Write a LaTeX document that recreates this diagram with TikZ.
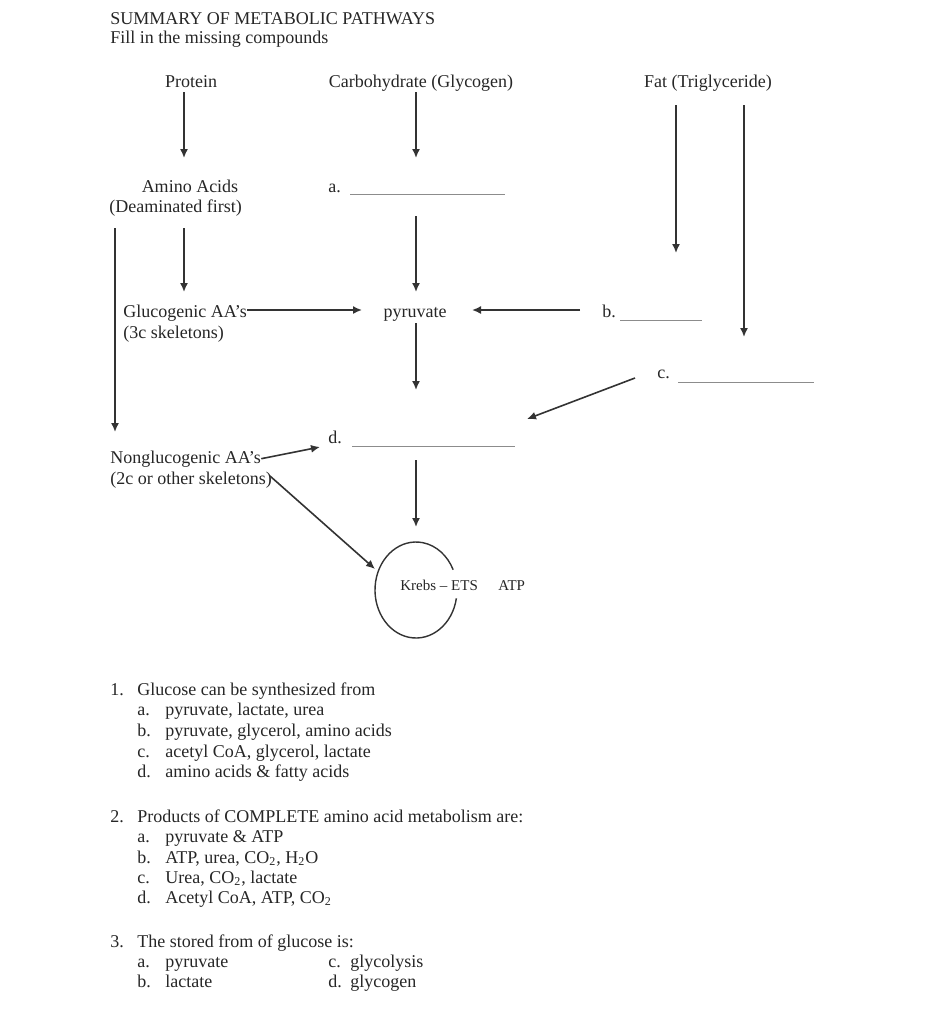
\documentclass[tikz,border=0pt]{standalone}
\usepackage{fontspec}
\setmainfont{Liberation Serif}
\usetikzlibrary{arrows.meta}
\begin{document}
\fontsize{9}{10.25}\selectfont
\begin{tikzpicture}[x=0.5pt,y=0.5pt,yscale=-1,xscale=1,
  txt/.style={inner sep=0pt,anchor=base west,text=black!85},
  ctr/.style={inner sep=0pt,anchor=base,text=black!85},
  flow/.style={-{Latex[length=4.5pt,width=4pt]},line width=0.8pt,draw=black!80},
  blank/.style={line width=0.5pt,draw=black!45}]
\useasboundingbox (0,0) rectangle (929,1024);

%Heading
\node[txt] (title) at (110,24) {SUMMARY OF METABOLIC PATHWAYS};
\node[txt] (fill) at (110,43) {Fill in the missing compounds};

%Sources
\node[ctr] (protein) at (191,87) {Protein};
\node[ctr] (carb) at (421,87) {Carbohydrate (Glycogen)};
\node[ctr] (fat) at (708,87) {Fat (Triglyceride)};

%Compounds
\node[ctr] (amino) at (190,192) {Amino Acids};
\node[txt] (deam) at (109,212) {(Deaminated first)};
\node[txt] (a) at (328,192) {a.};
\node[txt] (gluco) at (123,317) {Glucogenic AA’s};
\node[txt] (three) at (123,338) {(3c skeletons)};
\node[ctr] (pyr) at (415,317) {pyruvate};
\node[txt] (b) at (602,317) {b.};
\node[txt] (c) at (657,378) {c.};
\node[txt] (d) at (328,443) {d.};
\node[txt] (nongluco) at (110,463) {Nonglucogenic AA’s};
\node[txt] (two) at (110,484) {(2c or other skeletons)};
\node[txt,font=\fontsize{7.5}{9}\selectfont] (krebs) at (400,590) {Krebs -- ETS};
\node[txt,font=\fontsize{7.5}{9}\selectfont] (atp) at (498,590) {ATP};

%Arrow ends
\coordinate (protein-out) at (184,92);
\coordinate (amino-in) at (184,158);
\coordinate (carb-out) at (416,92);
\coordinate (a-in) at (416,158);
\coordinate (amino-out) at (184,228);
\coordinate (gluco-in) at (184,292);
\coordinate (a-out) at (416,216);
\coordinate (pyr-in) at (416,292);
\coordinate (deam-out) at (115,228);
\coordinate (nongluco-in) at (115,432);
\coordinate (pyr-w) at (362,310);
\coordinate (b-out) at (580,310);
\coordinate (pyr-e) at (472,310);
\coordinate (fat-out1) at (676,105);
\coordinate (fat-in1) at (676,253);
\coordinate (fat-out2) at (744,105);
\coordinate (fat-in2) at (744,337);
\coordinate (pyr-out) at (416,323);
\coordinate (d-in) at (416,390);
\coordinate (c-out) at (635,378);
\coordinate (d-ne) at (527,419);
\coordinate (d-w) at (320,447);
\coordinate (two-e) at (270,476);
\coordinate (krebs-w) at (375,569);
\coordinate (d-out) at (416,460);
\coordinate (krebs-in) at (416,527);
\coordinate (krebs-c) at (416,590);

%Arrows
\draw[flow] (protein-out) -- (amino-in);
\draw[flow] (carb-out) -- (a-in);
\draw[flow] (amino-out) -- (gluco-in);
\draw[flow] (a-out) -- (pyr-in);
\draw[flow] (deam-out) -- (nongluco-in);
\draw[flow] (gluco.east |- pyr-w) -- (pyr-w);
\draw[flow] (b-out) -- (pyr-e);
\draw[flow] (fat-out1) -- (fat-in1);
\draw[flow] (fat-out2) -- (fat-in2);
\draw[flow] (pyr-out) -- (d-in);
\draw[flow] (c-out) -- (d-ne);
\draw[flow] (nongluco.east) -- (d-w);
\draw[flow] (two-e) -- (krebs-w);
\draw[flow] (d-out) -- (krebs-in);

%Blanks
\draw[blank] (350,194) -- (505,194);
\draw[blank] (620,320) -- (702,320);
\draw[blank] (678,382) -- (814,382);
\draw[blank] (352,446) -- (515,446);

%Krebs cycle
\draw[line width=0.7pt,draw=black!80] (krebs-c) ++(10:41 and 48) arc[start angle=10, end angle=335, x radius=41, y radius=48];

%Questions
\node[txt] (q1) at (110,695) {\makebox[13.5pt][l]{1.}Glucose can be synthesized from};
\node[txt] (q1a) at (137,715) {\makebox[14pt][l]{a.}pyruvate, lactate, urea};
\node[txt] (q1b) at (137,736) {\makebox[14pt][l]{b.}pyruvate, glycerol, amino acids};
\node[txt] (q1c) at (137,757) {\makebox[14pt][l]{c.}acetyl CoA, glycerol, lactate};
\node[txt] (q1d) at (137,777) {\makebox[14pt][l]{d.}amino acids \& fatty acids};

\node[txt] (q2) at (110,822) {\makebox[13.5pt][l]{2.}Products of COMPLETE amino acid metabolism are:};
\node[txt] (q2a) at (137,842) {\makebox[14pt][l]{a.}pyruvate \& ATP};
\node[txt] (q2b) at (137,863) {\makebox[14pt][l]{b.}ATP, urea, CO\textsubscript{2}, H\textsubscript{2}O};
\node[txt] (q2c) at (137,883) {\makebox[14pt][l]{c.}Urea, CO\textsubscript{2}, lactate};
\node[txt] (q2d) at (137,903) {\makebox[14pt][l]{d.}Acetyl CoA, ATP, CO\textsubscript{2}};

\node[txt] (q3) at (110,947) {\makebox[13.5pt][l]{3.}The stored from of glucose is:};
\node[txt] (q3a) at (137,967) {\makebox[14pt][l]{a.}pyruvate};
\node[txt] (q3b) at (137,987) {\makebox[14pt][l]{b.}lactate};
\node[txt] (q3c) at (328,967) {\makebox[11pt][l]{c.}glycolysis};
\node[txt] (q3d) at (328,987) {\makebox[11pt][l]{d.}glycogen};

\end{tikzpicture}
\end{document}
